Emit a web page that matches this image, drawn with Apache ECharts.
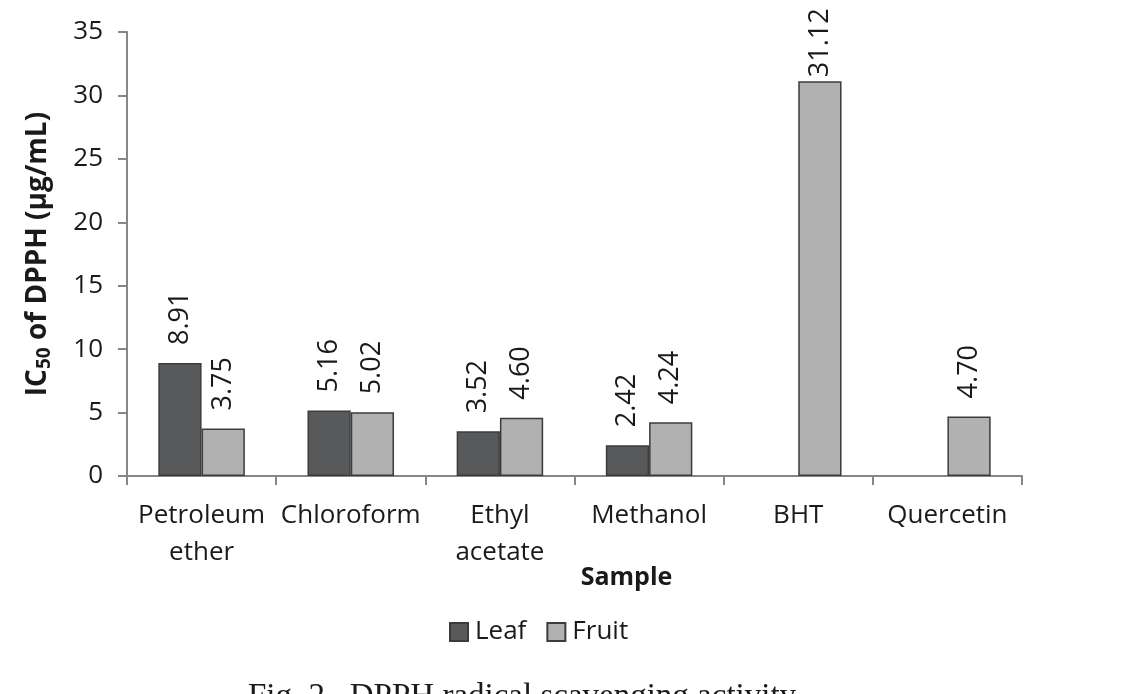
<!DOCTYPE html>
<html><head><meta charset="utf-8">
<script src="https://cdn.jsdelivr.net/npm/echarts@6/dist/echarts.min.js"></script>
<style>html,body{margin:0;padding:0;background:#fff}#c{width:1135px;height:694px}</style>
</head><body><div id="c"></div>
<script>
const categories = ['Petroleum\nether', 'Chloroform', 'Ethyl\nacetate', 'Methanol', 'BHT', 'Quercetin'];
const leaf = [8.91, 5.16, 3.52, 2.42, null, null];
const fruit = [3.75, 5.02, 4.60, 4.24, 31.12, 4.70];
const yTicks = [0, 5, 10, 15, 20, 25, 30, 35];

const font = '"Open Sans", "Noto Sans", sans-serif';
const chart = echarts.init(document.getElementById('c'), null, {renderer: 'canvas'});
const labelCfg = {
  show: true, position: 'top', rotate: 90, align: 'left', verticalAlign: 'middle',
  distance: 18, fontFamily: font, fontSize: 27, color: '#1a1a1a',
  formatter: p => p.value == null ? '' : p.value.toFixed(2)
};
// labels near the plot top are pulled down onto the bar (as in the source chart)
const withLabelFit = arr => arr.map(v => (v != null && v > 30) ? {value: v, label: {distance: 4}} : v);
chart.setOption({
  animation: false,
  backgroundColor: '#fff',
  title: {
    text: 'Fig. 2.  DPPH radical scavenging activity',
    left: 243, top: 676,
    textStyle: {fontFamily: '"Liberation Serif", "DejaVu Serif", serif', fontSize: 33, fontWeight: 'normal', color: '#1a1a1a'}
  },
  grid: {left: 127, right: 113, top: 32, bottom: 218, containLabel: false},
  legend: {
    top: 614, left: 444, itemWidth: 18, itemHeight: 18, itemGap: 20, icon: 'rect',
    textStyle: {fontFamily: font, fontSize: 26, color: '#1a1a1a', padding: [0, 0, 0, 2]},
    data: ['Leaf', 'Fruit']
  },
  xAxis: {
    type: 'category', data: categories,
    name: 'Sample', nameLocation: 'middle', nameGap: 89, nameMoveOverlap: false,
    nameTextStyle: {fontFamily: font, fontSize: 25, fontWeight: 'bold', color: '#1a1a1a', padding: [0, 0, 0, 104]},
    axisLine: {lineStyle: {color: '#868686', width: 2}},
    axisTick: {show: true, length: 9, alignWithLabel: false, lineStyle: {color: '#868686', width: 2}},
    axisLabel: {fontFamily: font, fontSize: 26, color: '#1a1a1a', margin: 21, lineHeight: 37, interval: 0}
  },
  yAxis: {
    type: 'value', min: yTicks[0], max: yTicks[yTicks.length - 1], interval: 5,
    name: '{b|IC}{s|50}{b| of DPPH (µg/mL)}', nameLocation: 'middle', nameRotate: 90, nameGap: 73, nameMoveOverlap: false,
    nameTextStyle: {
      rich: {
        b: {fontFamily: font, fontSize: 28, fontWeight: 'bold', color: '#1a1a1a'},
        s: {fontFamily: font, fontSize: 19, fontWeight: 'bold', color: '#1a1a1a', verticalAlign: 'bottom', padding: [12, 0, 0, 0]}
      }
    },
    splitLine: {show: false},
    axisLine: {show: true, lineStyle: {color: '#868686', width: 2}},
    axisTick: {show: true, length: 9, lineStyle: {color: '#868686', width: 2}},
    axisLabel: {fontFamily: font, fontSize: 26, color: '#1a1a1a', margin: 24}
  },
  series: [
    {name: 'Leaf', type: 'bar', data: withLabelFit(leaf), barGap: '0%', barCategoryGap: '42%',
     itemStyle: {color: '#58595b', borderColor: '#3c3c3c', borderWidth: 1.5}, label: labelCfg},
    {name: 'Fruit', type: 'bar', data: withLabelFit(fruit),
     itemStyle: {color: '#b1b1b1', borderColor: '#3c3c3c', borderWidth: 1.5}, label: labelCfg}
  ]
});
</script></body></html>
